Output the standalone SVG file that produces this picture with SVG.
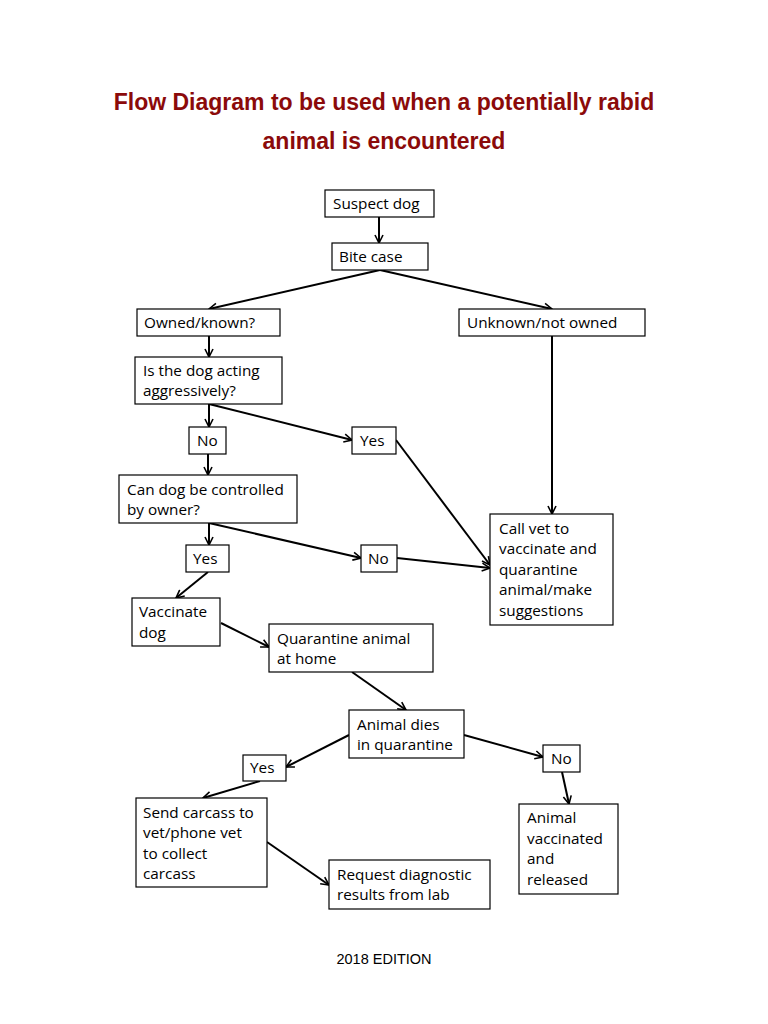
<svg xmlns="http://www.w3.org/2000/svg" width="768" height="1024" viewBox="0 0 768 1024">
<style>
.b{fill:#fff;stroke:#000;stroke-width:1.2}
.t{font-family:"Open Sans","Liberation Sans",sans-serif;font-size:15.3px;fill:#000}
.c line{stroke:#000;stroke-width:2;marker-end:url(#a)}
.h{font-family:"Liberation Sans",Arial,sans-serif;font-size:23px;font-weight:bold;fill:#8b0a0a;text-anchor:middle}
</style>
<defs><marker id="a" markerWidth="10" markerHeight="10" refX="9" refY="5" orient="auto" markerUnits="userSpaceOnUse"><path d="M1,1 L9,5 L1,9" fill="none" stroke="#000" stroke-width="1.6"/></marker></defs>
<rect width="768" height="1024" fill="#fff"/>
<text class="h" x="384" y="110">Flow Diagram to be used when a potentially rabid</text>
<text class="h" x="384" y="149">animal is encountered</text>
<g class="c">
<line x1="379" y1="217" x2="379" y2="243"/>
<line x1="380" y1="270" x2="209" y2="309"/>
<line x1="380" y1="270" x2="552" y2="309"/>
<line x1="209" y1="336" x2="209" y2="357"/>
<line x1="552" y1="336" x2="552" y2="514"/>
<line x1="209" y1="404" x2="209" y2="427"/>
<line x1="209" y1="404" x2="352" y2="440"/>
<line x1="208" y1="454" x2="208" y2="475"/>
<line x1="396" y1="440" x2="490" y2="565"/>
<line x1="209" y1="523" x2="209" y2="545"/>
<line x1="209" y1="523" x2="361" y2="558"/>
<line x1="397" y1="558" x2="490" y2="568"/>
<line x1="208" y1="572" x2="176" y2="598"/>
<line x1="221" y1="623" x2="269" y2="647"/>
<line x1="352" y1="672" x2="406" y2="710"/>
<line x1="349" y1="735" x2="286" y2="767"/>
<line x1="464" y1="735" x2="543" y2="757"/>
<line x1="260" y1="781" x2="203" y2="798"/>
<line x1="562" y1="772" x2="569" y2="804"/>
<line x1="267" y1="842" x2="329" y2="885"/>
</g>
<g id="n1"><rect class="b" x="325" y="190" width="109" height="27"/><text class="t" x="333" y="209">Suspect dog</text></g>
<g id="n2"><rect class="b" x="332" y="243" width="96" height="27"/><text class="t" x="339" y="262">Bite case</text></g>
<g id="n3"><rect class="b" x="137" y="309" width="143" height="27"/><text class="t" x="144" y="328">Owned/known?</text></g>
<g id="n4"><rect class="b" x="459" y="309" width="186" height="27"/><text class="t" x="467" y="328">Unknown/not owned</text></g>
<g id="n5"><rect class="b" x="135" y="357" width="147" height="47"/><text class="t" x="143" y="376">Is the dog acting</text><text class="t" x="143" y="396">aggressively?</text></g>
<g id="n6"><rect class="b" x="189" y="427" width="37" height="27"/><text class="t" x="197" y="446">No</text></g>
<g id="n7"><rect class="b" x="352" y="427" width="44" height="27"/><text class="t" x="360" y="446">Yes</text></g>
<g id="n8"><rect class="b" x="119" y="475" width="178" height="48"/><text class="t" x="127" y="495">Can dog be controlled</text><text class="t" x="127" y="515">by owner?</text></g>
<g id="n9"><rect class="b" x="186" y="545" width="43" height="27"/><text class="t" x="193" y="564">Yes</text></g>
<g id="n10"><rect class="b" x="361" y="545" width="36" height="27"/><text class="t" x="368" y="564">No</text></g>
<g id="n11"><rect class="b" x="490" y="514" width="123" height="111"/><text class="t" x="499" y="534">Call vet to</text><text class="t" x="499" y="554">vaccinate and</text><text class="t" x="499" y="575">quarantine</text><text class="t" x="499" y="595">animal/make</text><text class="t" x="499" y="616">suggestions</text></g>
<g id="n12"><rect class="b" x="132" y="598" width="88" height="48"/><text class="t" x="139" y="617">Vaccinate</text><text class="t" x="139" y="638">dog</text></g>
<g id="n13"><rect class="b" x="269" y="624" width="164" height="48"/><text class="t" x="277" y="644">Quarantine animal</text><text class="t" x="277" y="664">at home</text></g>
<g id="n14"><rect class="b" x="349" y="710" width="115" height="48"/><text class="t" x="357" y="730">Animal dies</text><text class="t" x="357" y="750">in quarantine</text></g>
<g id="n15"><rect class="b" x="243" y="755" width="43" height="26"/><text class="t" x="250" y="773">Yes</text></g>
<g id="n16"><rect class="b" x="543" y="745" width="37" height="27"/><text class="t" x="551" y="764">No</text></g>
<g id="n17"><rect class="b" x="136" y="798" width="131" height="89"/><text class="t" x="143" y="818">Send carcass to</text><text class="t" x="143" y="838">vet/phone vet</text><text class="t" x="143" y="859">to collect</text><text class="t" x="143" y="879">carcass</text></g>
<g id="n18"><rect class="b" x="519" y="804" width="99" height="90"/><text class="t" x="527" y="823">Animal</text><text class="t" x="527" y="844">vaccinated</text><text class="t" x="527" y="864">and</text><text class="t" x="527" y="885">released</text></g>
<g id="n19"><rect class="b" x="329" y="860" width="161" height="49"/><text class="t" x="337" y="880">Request diagnostic</text><text class="t" x="337" y="900">results from lab</text></g>
<text x="384" y="964" text-anchor="middle" font-family="Liberation Sans,Arial,sans-serif" font-size="14.5">2018 EDITION</text>
</svg>
